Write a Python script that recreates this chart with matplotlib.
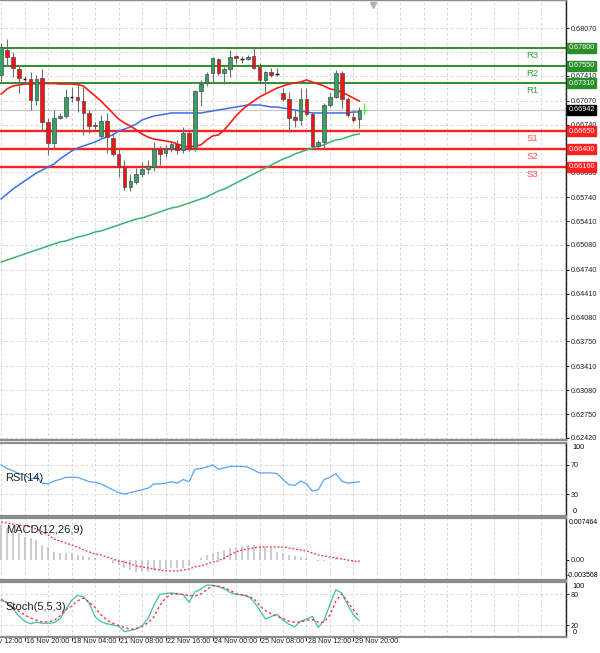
import matplotlib
matplotlib.use('Agg')
import matplotlib.pyplot as plt
import numpy as np
from matplotlib.patches import Rectangle
import matplotlib.transforms as mtransforms

plt.rcParams['font.family'] = ['Liberation Sans', 'DejaVu Sans']

# ---------------- data (4H candles) ----------------
open_ = [0.67422, 0.67767, 0.67671, 0.67505, 0.67367, 0.67367, 0.67078, 0.67381, 0.66775, 0.66485,
         0.66830, 0.66857, 0.67119, 0.67119, 0.67064, 0.66899, 0.66733, 0.66582, 0.66789, 0.66554,
         0.66334, 0.66155, 0.65879, 0.65948, 0.66058, 0.66127, 0.66155, 0.66403, 0.66348, 0.66403,
         0.66472, 0.66389, 0.66623, 0.66416, 0.67202, 0.67312, 0.67450, 0.67643, 0.67450, 0.67505,
         0.67684, 0.67643, 0.67643, 0.67684, 0.67533, 0.67354, 0.67464, 0.67436, 0.67174, 0.67092,
         0.66844, 0.66802, 0.67092, 0.66885, 0.66444, 0.66499, 0.67009, 0.67119, 0.67450, 0.67092,
         0.66844, 0.66816]
high = [0.67863, 0.67919, 0.67739, 0.67560, 0.67409, 0.67464, 0.67422, 0.67505, 0.66830, 0.66940,
        0.66899, 0.67230, 0.67257, 0.67285, 0.67257, 0.66940, 0.66775, 0.66871, 0.66899, 0.66623,
        0.66403, 0.66251, 0.66058, 0.66141, 0.66224, 0.66251, 0.66499, 0.66444, 0.66458, 0.66513,
        0.66527, 0.66706, 0.66665, 0.67216, 0.67354, 0.67464, 0.67671, 0.67657, 0.67533, 0.67767,
        0.67698, 0.67684, 0.67698, 0.67808, 0.67588, 0.67478, 0.67519, 0.67519, 0.67243, 0.67188,
        0.66940, 0.67243, 0.67243, 0.66913, 0.66527, 0.67037, 0.67188, 0.67491, 0.67478, 0.67119,
        0.66940, 0.66981]
low = [0.67312, 0.67547, 0.67395, 0.67174, 0.67312, 0.66940, 0.67009, 0.66665, 0.66320, 0.66416,
       0.66816, 0.66830, 0.67050, 0.66913, 0.66596, 0.66623, 0.66665, 0.66554, 0.66348, 0.66306,
       0.66017, 0.65838, 0.65824, 0.65920, 0.66017, 0.66058, 0.66099, 0.66182, 0.66292, 0.66361,
       0.66334, 0.66348, 0.66375, 0.66375, 0.66995, 0.67271, 0.67312, 0.67422, 0.67298, 0.67395,
       0.67588, 0.67588, 0.67629, 0.67505, 0.67326, 0.67188, 0.67395, 0.67409, 0.67064, 0.66637,
       0.66706, 0.66733, 0.66857, 0.66430, 0.66416, 0.66403, 0.66981, 0.67105, 0.66968, 0.66844,
       0.66775, 0.66692]
close = [0.67808, 0.67671, 0.67519, 0.67381, 0.67360, 0.67078, 0.67367, 0.66775, 0.66485, 0.66830,
         0.66857, 0.67119, 0.67112, 0.67078, 0.66899, 0.66720, 0.66720, 0.66789, 0.66568, 0.66334,
         0.66155, 0.65879, 0.65962, 0.66058, 0.66127, 0.66168, 0.66403, 0.66334, 0.66403, 0.66472,
         0.66389, 0.66623, 0.66416, 0.67202, 0.67298, 0.67436, 0.67657, 0.67450, 0.67505, 0.67671,
         0.67650, 0.67636, 0.67671, 0.67519, 0.67354, 0.67464, 0.67422, 0.67432, 0.67092, 0.66830,
         0.66802, 0.67092, 0.66885, 0.66444, 0.66499, 0.67009, 0.67119, 0.67450, 0.67092, 0.66871,
         0.66802, 0.66942]

ma_red = [0.67161, 0.67230, 0.67271, 0.67285, 0.67298, 0.67298, 0.67305, 0.67305, 0.67305, 0.67305,
          0.67298, 0.67298, 0.67298, 0.67291, 0.67271, 0.67202, 0.67133, 0.67064, 0.66981, 0.66899,
          0.66816, 0.66761, 0.66720, 0.66665, 0.66609, 0.66568, 0.66540, 0.66527, 0.66513, 0.66499,
          0.66472, 0.66444, 0.66430, 0.66444, 0.66458, 0.66527, 0.66582, 0.66596, 0.66665, 0.66761,
          0.66857, 0.66940, 0.67009, 0.67064, 0.67119, 0.67161, 0.67202, 0.67243, 0.67271, 0.67298,
          0.67312, 0.67326, 0.67354, 0.67326, 0.67298, 0.67271, 0.67230, 0.67216, 0.67188, 0.67147,
          0.67105, 0.67064]
ma_blue = [0.65714, 0.65783, 0.65851, 0.65907, 0.65962, 0.66017, 0.66072, 0.66113, 0.66155, 0.66196,
           0.66265, 0.66320, 0.66375, 0.66416, 0.66444, 0.66472, 0.66499, 0.66540, 0.66568, 0.66596,
           0.66651, 0.66678, 0.66706, 0.66747, 0.66802, 0.66830, 0.66857, 0.66871, 0.66885, 0.66899,
           0.66899, 0.66899, 0.66899, 0.66899, 0.66899, 0.66913, 0.66926, 0.66940, 0.66954, 0.66968,
           0.66981, 0.66995, 0.67009, 0.67009, 0.67009, 0.66995, 0.66981, 0.66981, 0.66968, 0.66954,
           0.66940, 0.66926, 0.66913, 0.66899, 0.66899, 0.66899, 0.66899, 0.66899, 0.66899, 0.66899,
           0.66913, 0.66913]
ma_green = [0.64845, 0.64873, 0.64900, 0.64928, 0.64956, 0.64983, 0.65011, 0.65038, 0.65066, 0.65093,
            0.65121, 0.65135, 0.65162, 0.65190, 0.65204, 0.65231, 0.65259, 0.65273, 0.65300, 0.65328,
            0.65355, 0.65383, 0.65410, 0.65438, 0.65452, 0.65479, 0.65507, 0.65534, 0.65562, 0.65590,
            0.65603, 0.65631, 0.65659, 0.65686, 0.65714, 0.65741, 0.65783, 0.65824, 0.65851, 0.65893,
            0.65934, 0.65975, 0.66017, 0.66058, 0.66099, 0.66141, 0.66182, 0.66224, 0.66265, 0.66292,
            0.66334, 0.66361, 0.66389, 0.66416, 0.66444, 0.66458, 0.66499, 0.66527, 0.66540, 0.66568,
            0.66596, 0.66609]

rsi = [70, 65, 62, 58, 57, 50, 54, 45, 44, 48,
       50, 53, 53, 53, 50, 47, 46, 44, 40, 36,
       32, 30, 32, 34, 36, 38, 44, 44, 45, 47,
       45, 50, 47, 64, 65, 67, 70, 64, 66, 68,
       68, 68, 67, 63, 59, 59, 59, 58, 50, 43,
       42, 48, 44, 34, 36, 50, 53, 58, 48, 45,
       46, 47]

macd_hist = [0.00622, 0.00568, 0.00515, 0.00480, 0.00409, 0.00391, 0.00355, 0.00266, 0.00231, 0.00142,
             0.00124, 0.00124, 0.00124, 0.00089, 0.00071, 0.00053, 0.00036, 0.00005, -0.00005, -0.00053,
             -0.00089, -0.00142, -0.00178, -0.00213, -0.00213, -0.00213, -0.00195, -0.00178, -0.00160, -0.00142,
             -0.00142, -0.00142, -0.00107, -0.00002, 0.00036, 0.00089, 0.00124, 0.00142, 0.00178, 0.00213,
             0.00231, 0.00249, 0.00266, 0.00266, 0.00249, 0.00231, 0.00213, 0.00142, 0.00124, 0.00089,
             0.00071, 0.00053, 0.00036, -0.00005, -0.00018, -0.00018, 0.00000, 0.00036, 0.00018, -0.00018,
             -0.00036, -0.00036]
macd_signal = [0.00675, 0.00657, 0.00640, 0.00622, 0.00604, 0.00586, 0.00551, 0.00497, 0.00444, 0.00373,
               0.00338, 0.00302, 0.00266, 0.00231, 0.00178, 0.00142, 0.00107, 0.00089, 0.00053, 0.00018,
               -0.00018, -0.00036, -0.00071, -0.00107, -0.00124, -0.00142, -0.00160, -0.00178, -0.00195, -0.00195,
               -0.00195, -0.00178, -0.00160, -0.00124, -0.00107, -0.00071, -0.00036, -0.00018, 0.00036, 0.00089,
               0.00142, 0.00178, 0.00195, 0.00213, 0.00231, 0.00231, 0.00231, 0.00231, 0.00231, 0.00213,
               0.00195, 0.00178, 0.00160, 0.00124, 0.00089, 0.00071, 0.00053, 0.00036, 0.00018, 0.00000,
               -0.00018, -0.00036]

stoch_k = [68, 64, 52, 38, 28, 23, 26, 24, 24, 25,
           32, 50, 68, 77, 75, 62, 36, 27, 23, 21,
           18, 8, 10, 13, 19, 33, 58, 79, 81, 82,
           80, 79, 64, 84, 89, 97, 97, 94, 90, 83,
           79, 79, 76, 66, 50, 32, 37, 41, 30, 22,
           17, 28, 32, 37, 16, 30, 60, 88, 82, 60,
           40, 29]
stoch_d = [70, 63, 55, 47, 40, 34, 30, 26, 27, 29,
           38, 50, 57, 67, 72, 64, 54, 40, 30, 24,
           20, 16, 12, 14, 18, 25, 36, 58, 72, 80,
           81, 79, 77, 76, 80, 88, 96, 95, 92, 87,
           81, 78, 75, 72, 58, 48, 42, 37, 33, 28,
           26, 26, 30, 31, 26, 26, 40, 66, 80, 65,
           50, 36]

level_names = ['R3', 'R2', 'R1', 'S1', 'S2', 'S3']
level_values = [0.67800, 0.67550, 0.67310, 0.66650, 0.66400, 0.66160]
last_price = 0.66942

price_ticks = [0.68070, 0.67740, 0.67410, 0.67070, 0.66740, 0.66400, 0.66080, 0.65740, 0.65410,
               0.65080, 0.64740, 0.64410, 0.64080, 0.63750, 0.63410, 0.63080, 0.62750, 0.62420]
time_label_bars = [-4, 4, 12, 20, 28, 36, 44, 52, 60]
time_labels = ['15 Nov 12:00', '16 Nov 20:00', '18 Nov 04:00', '21 Nov 08:00', '22 Nov 16:00',
               '24 Nov 00:00', '25 Nov 08:00', '28 Nov 12:00', '29 Nov 20:00']

# ---------------- layout ----------------
W, H = 600, 653
fig = plt.figure(figsize=(W / 100, H / 100), dpi=100)
fig.patch.set_facecolor('white')
right_px = 566


def add_ax(top, bottom):
    return fig.add_axes([0, 1 - bottom / H, right_px / W, (bottom - top) / H])


ax = add_ax(0, 440)
ax_rsi = add_ax(443, 516)
ax_macd = add_ax(518, 580)
ax_st = add_ax(582, 637)
axes = [ax, ax_rsi, ax_macd, ax_st]

n = len(close)
x = np.arange(n)
XMIN, XMAX = -0.2, 96.2
GRID = '#cfcfcf'
TXT = 5.2

for a in axes:
    a.set_xlim(XMIN, XMAX)
    a.set_facecolor('white')
    a.spines['left'].set_visible(False)
    for s in ['top', 'bottom']:
        a.spines[s].set_color('#8c8c8c')
        a.spines[s].set_linewidth(1.6)
    a.spines['right'].set_color('#202020')
    a.spines['right'].set_linewidth(1.0)
    a.yaxis.tick_right()
    a.tick_params(axis='y', length=2, width=0.7, pad=1.5, labelsize=TXT, colors='#202020')
    a.tick_params(axis='x', length=0, labelbottom=False)
    for xv in range(0, 97, 4):
        a.axvline(xv, color=GRID, lw=0.6, ls=(0, (3, 3)), zorder=0)

# ---------------- main price panel ----------------
ax.set_ylim(0.62392, 0.68456)
ax.set_yticks(price_ticks)
ax.set_yticklabels([f'{p:.5f}' for p in price_ticks])
ax.spines['top'].set_linewidth(1.0)
for p in price_ticks:
    ax.axhline(p, color=GRID, lw=0.6, ls=(0, (3, 3)), zorder=0)

# current price line
ax.axhline(last_price, color='#c8c8c8', lw=0.9, zorder=1)

# support / resistance
for name, val in zip(level_names, level_values):
    is_r = name.startswith('R')
    col = '#2a8f2a' if is_r else '#ff2020'
    ax.axhline(val, color=col, lw=1.4 if is_r else 1.7, zorder=1.5)
    ax.annotate(name, xy=(0.941, val), xycoords=ax.get_yaxis_transform(),
                xytext=(0, -5.6), textcoords='offset points', ha='center', va='center',
                fontsize=6.8, color='#3d9b3d' if is_r else '#ff4d4d', zorder=5)
    ax.text(1.004, val, f'{val:.5f}', transform=ax.get_yaxis_transform(), fontsize=TXT,
            color='white', ha='left', va='center', clip_on=False, zorder=10,
            bbox=dict(boxstyle='square,pad=0.22', facecolor=col, edgecolor=col))
ax.text(1.004, last_price, f'{last_price:.5f}', transform=ax.get_yaxis_transform(), fontsize=TXT,
        color='white', ha='left', va='center', clip_on=False, zorder=10,
        bbox=dict(boxstyle='square,pad=0.22', facecolor='black', edgecolor='black'))

# moving averages
ax.plot(x, ma_green, color='#3cb371', lw=1.1, zorder=3)
ax.plot(x, ma_blue, color='#3a6ee8', lw=1.1, zorder=3)
ax.plot(x, ma_red, color='#ff1a1a', lw=1.2, zorder=3)

# candles
bw = 0.62
for i in range(n):
    o, h, l, c = open_[i], high[i], low[i], close[i]
    ax.vlines(i, l, h, color='#6e6e6e', lw=0.8, zorder=4)
    if abs(c - o) < 0.00009:
        ax.hlines((o + c) / 2, i - bw / 2, i + bw / 2, color='#1a1a1a', lw=1.0, zorder=5)
        continue
    fc = '#36a165' if c > o else '#ff1010'
    ax.add_patch(Rectangle((i - bw / 2, min(o, c)), bw, abs(c - o), facecolor=fc,
                           edgecolor='#4a4a4a', lw=0.5, zorder=5))

# live-bar marker and chart-shift marker
ax.vlines(n - 1 + 0.85, close[-1] - 0.0006, close[-1] + 0.0009, color='#44ee44', lw=0.9, zorder=6)
ax.plot([n - 1 + 0.85, n - 1 + 1.1], [close[-1]] * 2, color='#44ee44', lw=0.9, zorder=6)
ax.plot([n + 1.3], [0.988], marker='v', ms=4, color='#b0b0b0',
        transform=mtransforms.blended_transform_factory(ax.transData, ax.transAxes), clip_on=False)

# ---------------- RSI ----------------
ax_rsi.set_ylim(0, 100)
ax_rsi.set_yticks([70, 30])
for v in [70, 30]:
    ax_rsi.axhline(v, color=GRID, lw=0.6, ls=(0, (3, 3)), zorder=0)
ax_rsi.plot(x, rsi, color='#58a3f5', lw=0.9, zorder=3)
ax_rsi.text(1.012, 0.985, '100', transform=ax_rsi.transAxes, fontsize=TXT, va='top', ha='left')
ax_rsi.text(1.012, 0.02, '0', transform=ax_rsi.transAxes, fontsize=TXT, va='bottom', ha='left')
ax_rsi.text(0.009, 0.52, 'RSI(14)', transform=ax_rsi.transAxes, fontsize=8, color='#202020',
            va='center', ha='left', zorder=6)

# ---------------- MACD ----------------
ax_macd.set_ylim(-0.003568, 0.007464)
ax_macd.set_yticks([0.0])
ax_macd.set_yticklabels(['0.00'])
ax_macd.vlines(x, 0, macd_hist, color='#bdbdbd', lw=1.1, zorder=2)
ax_macd.plot(x, macd_signal, color='#ff2a2a', lw=0.9, ls=(0, (1.5, 1.5)), zorder=3)
ax_macd.text(1.004, 0.985, '0.007464', transform=ax_macd.transAxes, fontsize=5.0, va='top', ha='left')
ax_macd.text(1.002, 0.02, '-0.003568', transform=ax_macd.transAxes, fontsize=5.0, va='bottom', ha='left')
ax_macd.text(0.011, 0.80, 'MACD(12,26,9)', transform=ax_macd.transAxes, fontsize=8, color='#202020',
             va='center', ha='left', zorder=6)

# ---------------- Stochastic ----------------
ax_st.set_ylim(-2.4, 103)
ax_st.set_yticks([80, 20])
for v in [80, 20]:
    ax_st.axhline(v, color=GRID, lw=0.6, ls=(0, (3, 3)), zorder=0)
ax_st.plot(x, stoch_k, color='#3cc0b0', lw=0.9, zorder=3)
ax_st.plot(x, stoch_d, color='#ff2a2a', lw=0.9, ls=(0, (2, 2)), zorder=3)
ax_st.text(1.012, 0.985, '100', transform=ax_st.transAxes, fontsize=TXT, va='top', ha='left')
ax_st.text(1.012, 0.02, '0', transform=ax_st.transAxes, fontsize=TXT, va='bottom', ha='left')
ax_st.text(0.009, 0.55, 'Stoch(5,5,3)', transform=ax_st.transAxes, fontsize=8, color='#202020',
           va='center', ha='left', zorder=6)

# time axis labels
ax_st.set_xticks([b for b in time_label_bars if b >= 0])
ax_st.tick_params(axis='x', length=3, width=0.7, direction='out', color='#202020')
tb = mtransforms.blended_transform_factory(ax_st.transData, ax_st.transAxes)
for b, lab in zip(time_label_bars, time_labels):
    ax_st.text(b + 0.2, -0.09, lab, transform=tb, fontsize=TXT, ha='left', va='center',
               clip_on=False, color='#202020')

fig.savefig('out.png', dpi=100, facecolor='white')
